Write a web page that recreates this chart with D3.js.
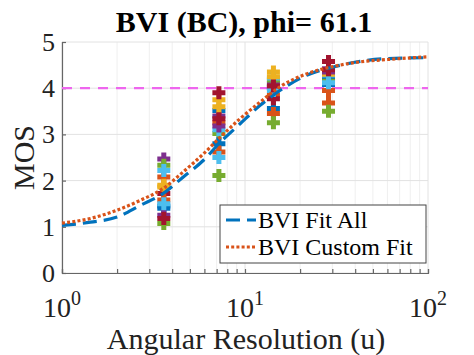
<!DOCTYPE html>
<html><head><meta charset="utf-8">
<script src="https://cdn.jsdelivr.net/npm/d3@7"></script>
<style>html,body{margin:0;padding:0;background:#fff;}svg{display:block;}</style>
</head><body><svg id="c" width="474" height="355"></svg>
<script>
// ---- data ----
const xLevels = [3.6, 7.2, 14.3, 28.6];
const colors = ["#0072BD","#D95319","#EDB120","#7E2F8E","#77AC30","#4DBEEE","#A2142F"];
// per-subject MOS at each angular resolution (14 subjects, colours cycle)
const subjects = [
  [1.40, 3.52, 3.56, 4.08],
  [2.08, 3.25, 3.85, 3.68],
  [1.86, 3.75, 4.35, 4.28],
  [2.47, 3.40, 4.10, 4.42],
  [2.33, 3.02, 4.18, 3.50],
  [2.22, 3.10, 4.22, 4.22],
  [1.72, 3.90, 3.77, 4.58],
  [1.45, 2.80, 4.00, 4.18],
  [1.58, 2.62, 3.45, 3.95],
  [1.90, 3.60, 4.25, 4.30],
  [1.25, 3.18, 4.02, 4.35],
  [1.07, 2.11, 3.25, 4.15],
  [1.50, 2.50, 3.95, 4.12],
  [1.18, 3.34, 4.05, 4.40]
];
const fitAllX = [1, 1.43, 2.0, 2.67, 3.57, 4.6, 5.93, 7.2, 9.4, 12.1, 15.5, 21.7, 30.4, 42.5, 59.4, 100];
const fitAllY = [1.03, 1.10, 1.21, 1.46, 1.72, 2.08, 2.44, 2.80, 3.23, 3.63, 3.95, 4.28, 4.46, 4.58, 4.64, 4.66];
const customX = [1, 1.43, 2.0, 2.67, 3.57, 4.6, 5.93, 7.2, 9.4, 12.1, 15.5, 21.7, 30.4, 42.5, 59.4, 100];
const customY = [1.08, 1.18, 1.36, 1.57, 1.83, 2.19, 2.58, 2.91, 3.34, 3.70, 4.03, 4.31, 4.47, 4.57, 4.62, 4.68];
const threshold = 4;
const yTicks = [0,1,2,3,4,5];
const xTicks = [1,10,100];
const xTickExp = ["0","1","2"];
const legendLabels = ["BVI Fit All","BVI Custom Fit"];
const titleText = "BVI (BC), phi= 61.1";

// ---- layout ----
const svg = d3.select("#c");
const L = 62, R = 428, T = 42, B = 273;
const font = "'Liberation Serif','Times New Roman',Times,serif";
const x = d3.scaleLog().domain([1,100]).range([L,R]);
const y = d3.scaleLinear().domain([0,5]).range([B,T]);

// grid
const g = svg.append("g");
const minor = [];
for (let d=1; d<100; d*=10) for (let k=2;k<=9;k++) minor.push(d*k);
g.selectAll(".mg").data(minor).enter().append("line")
  .attr("x1",d=>x(d)).attr("x2",d=>x(d)).attr("y1",T).attr("y2",B)
  .attr("stroke","#efefef").attr("stroke-width",1);
g.selectAll(".xg").data(xTicks).enter().append("line")
  .attr("x1",d=>x(d)).attr("x2",d=>x(d)).attr("y1",T).attr("y2",B)
  .attr("stroke","#e2e2e2").attr("stroke-width",1);
g.selectAll(".yg").data(yTicks).enter().append("line")
  .attr("x1",L).attr("x2",R).attr("y1",d=>y(d)).attr("y2",d=>y(d))
  .attr("stroke","#e2e2e2").attr("stroke-width",1);

// axes
const ax = svg.append("g").attr("transform",`translate(0,${B})`)
  .call(d3.axisBottom(x).tickValues(xTicks.concat(minor)).tickSize(-4).tickFormat(""));
const ay = svg.append("g").attr("transform",`translate(${L},0)`)
  .call(d3.axisLeft(y).tickValues(yTicks).tickSize(-4).tickFormat(""));
[ax,ay].forEach(a=>{a.selectAll("path,line").attr("stroke","#666").attr("stroke-width",1.2);});

// tick labels
svg.selectAll(".yl").data(yTicks).enter().append("text")
  .attr("x",L-7).attr("y",d=>y(d)+9).attr("text-anchor","end")
  .attr("font-family",font).attr("font-size",26).attr("fill","#222").text(d=>d);
const xl = svg.selectAll(".xl").data(xTicks).enter().append("text")
  .attr("x",d=>x(d)).attr("y",317).attr("text-anchor","middle")
  .attr("font-family",font).attr("font-size",28).attr("fill","#222");
xl.append("tspan").text("10");
xl.append("tspan").attr("dy",-12).attr("font-size",20).text((d,i)=>xTickExp[i]);

// axis labels & title
svg.append("text").attr("x",246).attr("y",349).attr("text-anchor","middle")
  .attr("font-family",font).attr("font-size",30).attr("fill","#222").text("Angular Resolution (u)");
svg.append("text").attr("transform",`translate(34,${(T+B)/2}) rotate(-90)`).attr("text-anchor","middle")
  .attr("font-family",font).attr("font-size",30).attr("fill","#222").text("MOS");
svg.append("text").attr("x",244).attr("y",32).attr("text-anchor","middle")
  .attr("font-family",font).attr("font-size",30).attr("font-weight","bold")
  .attr("fill","#000").text(titleText);

// threshold
svg.append("line").attr("x1",L).attr("x2",R).attr("y1",y(threshold)).attr("y2",y(threshold))
  .attr("stroke","#ee66ee").attr("stroke-width",2.2).attr("stroke-dasharray","10,8");

// markers
const mk = svg.append("g");
subjects.forEach((s,i)=>{
  const c = colors[i%colors.length];
  s.forEach((v,j)=>{
    const cx = x(xLevels[j]), cy = y(v), h = 6.5;
    mk.append("path").attr("d",`M${cx-h},${cy}H${cx+h}M${cx},${cy-h}V${cy+h}`)
      .attr("stroke",c).attr("stroke-width",5).attr("fill","none");
  });
});

// fit lines
const line = d3.line().x(d=>x(d[0])).y(d=>y(d[1])).curve(d3.curveMonotoneX);
svg.append("path").datum(fitAllX.map((v,i)=>[v,fitAllY[i]])).attr("d",line)
  .attr("fill","none").attr("stroke","#0072BD").attr("stroke-width",3.2).attr("stroke-dasharray","14,7");
svg.append("path").datum(customX.map((v,i)=>[v,customY[i]])).attr("d",line)
  .attr("fill","none").attr("stroke","#D95319").attr("stroke-width",3.2).attr("stroke-dasharray","3,2.2");

// legend
const lg = svg.append("g");
lg.append("rect").attr("x",220).attr("y",205).attr("width",206).attr("height",58)
  .attr("fill","#fff").attr("stroke","#444").attr("stroke-width",1);
const styles = [{c:"#0072BD",d:"14,7"},{c:"#D95319",d:"3,2.2"}];
legendLabels.forEach((t,i)=>{
  const yy = 220 + i*27;
  lg.append("line").attr("x1",226).attr("x2",256).attr("y1",yy).attr("y2",yy)
    .attr("stroke",styles[i].c).attr("stroke-width",3.2).attr("stroke-dasharray",styles[i].d);
  lg.append("text").attr("x",258).attr("y",yy+8).attr("font-family",font).attr("font-size",24)
    .attr("fill","#000").text(t);
});
</script></body></html>
